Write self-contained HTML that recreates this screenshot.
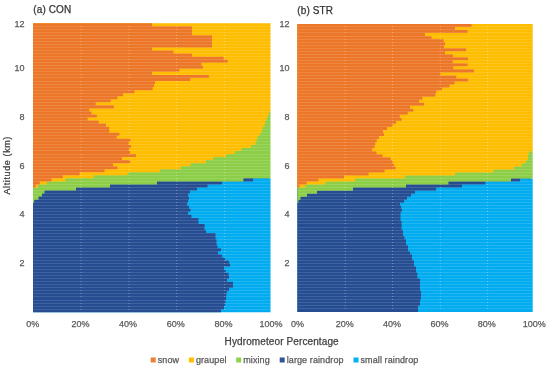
<!DOCTYPE html>
<html><head><meta charset="utf-8"><title>Hydrometeor Percentage</title>
<style>
html,body{margin:0;padding:0;background:#fff;}
body{width:550px;height:369px;overflow:hidden;}
svg{display:block;font-family:"Liberation Sans",Arial,sans-serif;}
</style></head><body>
<svg width="550" height="369" viewBox="0 0 550 369">
<rect width="550" height="369" fill="#fff"/>
<g>
<polygon points="33.0,24.30 267.5,24.30 267.5,111.42 268.5,111.42 268.5,178.35 270.5,178.35 270.5,312.20 33.0,312.20" fill="#00ACEF"/>
<polygon points="33.0,24.30 268.5,24.30 268.5,111.42 269.5,111.42 269.5,178.35 253.0,178.35 253.0,181.39 222.0,181.39 222.0,184.43 207.5,184.43 207.5,187.47 197.0,187.47 197.0,190.52 190.0,190.52 190.0,193.56 188.0,193.56 188.0,196.60 189.0,196.60 189.0,199.64 188.0,199.64 188.0,202.68 187.0,202.68 187.0,205.73 189.0,205.73 189.0,208.77 190.5,208.77 190.5,211.81 188.0,211.81 188.0,214.85 191.5,214.85 191.5,217.89 198.5,217.89 198.5,223.98 204.5,223.98 204.5,230.06 206.0,230.06 206.0,233.11 215.5,233.11 215.5,239.19 216.5,239.19 216.5,245.27 217.5,245.27 217.5,248.32 221.0,248.32 221.0,251.36 218.0,251.36 218.0,254.40 222.0,254.40 222.0,257.44 225.0,257.44 225.0,260.48 229.0,260.48 229.0,263.53 230.0,263.53 230.0,266.57 224.0,266.57 224.0,269.61 225.5,269.61 225.5,272.65 228.5,272.65 228.5,275.69 229.0,275.69 229.0,278.74 227.0,278.74 227.0,281.78 233.0,281.78 233.0,287.86 229.0,287.86 229.0,290.91 226.8,290.91 226.8,293.95 226.2,293.95 226.2,296.99 226.0,296.99 226.0,300.03 225.5,300.03 225.5,303.07 225.0,303.07 225.0,306.12 224.0,306.12 224.0,309.16 221.0,309.16 221.0,312.20 33.0,312.20" fill="#264D92"/>
<polygon points="33.0,24.30 269.5,24.30 269.5,111.42 270.5,111.42 270.5,178.35 243.4,178.35 243.4,181.39 157.0,181.39 157.0,184.43 110.0,184.43 110.0,187.47 76.0,187.47 76.0,190.52 44.5,190.52 44.5,193.56 42.0,193.56 42.0,196.60 38.5,196.60 38.5,199.64 34.2,199.64 34.2,202.68 33.0,202.68 33.0,311.10 33.0,311.10" fill="#8DCE48"/>
<polygon points="33.0,23.20 270.5,23.20 270.5,111.42 269.0,111.42 269.0,114.46 268.0,114.46 268.0,117.51 266.5,117.51 266.5,120.55 265.5,120.55 265.5,123.59 264.5,123.59 264.5,126.63 262.5,126.63 262.5,129.67 261.8,129.67 261.8,132.72 260.0,132.72 260.0,135.76 257.5,135.76 257.5,138.80 256.5,138.80 256.5,141.84 255.5,141.84 255.5,144.88 251.0,144.88 251.0,147.93 241.5,147.93 241.5,150.97 235.0,150.97 235.0,154.01 226.0,154.01 226.0,157.05 213.0,157.05 213.0,160.09 206.0,160.09 206.0,163.14 190.5,163.14 190.5,166.18 181.0,166.18 181.0,169.22 160.0,169.22 160.0,172.26 127.5,172.26 127.5,175.31 93.8,175.31 93.8,178.35 65.5,178.35 65.5,181.39 47.0,181.39 47.0,184.43 38.0,184.43 38.0,187.47 33.0,187.47 33.0,311.10 33.0,311.10" fill="#FFBD00"/>
<polygon points="33.0,23.20 152.0,23.20 152.0,26.24 192.0,26.24 192.0,35.37 212.0,35.37 212.0,47.54 152.0,47.54 152.0,50.58 173.5,50.58 173.5,53.62 192.0,53.62 192.0,56.66 223.6,56.66 223.6,59.71 227.7,59.71 227.7,62.75 201.3,62.75 201.3,65.79 203.0,65.79 203.0,68.83 179.4,68.83 179.4,71.87 152.0,71.87 152.0,74.92 208.8,74.92 208.8,77.96 190.3,77.96 190.3,81.00 155.0,81.00 155.0,84.04 154.0,84.04 154.0,87.08 152.6,87.08 152.6,90.13 134.5,90.13 134.5,93.17 123.0,93.17 123.0,96.21 117.5,96.21 117.5,99.25 110.7,99.25 110.7,102.29 95.7,102.29 95.7,105.34 113.8,105.34 113.8,108.38 89.3,108.38 89.3,111.42 91.5,111.42 91.5,114.46 96.8,114.46 96.8,117.51 87.6,117.51 87.6,120.55 98.6,120.55 98.6,123.59 106.0,123.59 106.0,126.63 109.2,126.63 109.2,132.72 119.4,132.72 119.4,135.76 116.6,135.76 116.6,138.80 130.3,138.80 130.3,141.84 128.7,141.84 128.7,144.88 131.0,144.88 131.0,147.93 129.0,147.93 129.0,150.97 130.0,150.97 130.0,154.01 136.0,154.01 136.0,157.05 122.0,157.05 122.0,160.09 130.0,160.09 130.0,163.14 113.0,163.14 113.0,166.18 117.5,166.18 117.5,169.22 104.5,169.22 104.5,172.26 79.6,172.26 79.6,175.31 62.8,175.31 62.8,178.35 51.5,178.35 51.5,181.39 39.8,181.39 39.8,184.43 35.6,184.43 35.6,187.47 33.0,187.47 33.0,311.10 33.0,311.10" fill="#EC7728"/>
<path d="M33.0 26.50H270.5M33.0 29.50H270.5M33.0 32.50H270.5M33.0 35.50H270.5M33.0 38.50H270.5M33.0 41.50H270.5M33.0 44.50H270.5M33.0 47.50H270.5M33.0 50.50H270.5M33.0 53.50H270.5M33.0 56.50H270.5M33.0 59.50H270.5M33.0 62.50H270.5M33.0 65.50H270.5M33.0 68.50H270.5M33.0 71.50H270.5M33.0 74.50H270.5M33.0 77.50H270.5M33.0 81.50H270.5M33.0 84.50H270.5M33.0 87.50H270.5M33.0 90.50H270.5M33.0 93.50H270.5M33.0 96.50H270.5M33.0 99.50H270.5M33.0 102.50H270.5M33.0 105.50H270.5M33.0 108.50H270.5M33.0 111.50H270.5M33.0 114.50H270.5M33.0 117.50H270.5M33.0 120.50H270.5M33.0 123.50H270.5M33.0 126.50H270.5M33.0 129.50H270.5M33.0 132.50H270.5M33.0 135.50H270.5M33.0 138.50H270.5M33.0 141.50H270.5M33.0 144.50H270.5M33.0 147.50H270.5M33.0 150.50H270.5M33.0 154.50H270.5M33.0 157.50H270.5M33.0 160.50H270.5M33.0 163.50H270.5M33.0 166.50H270.5M33.0 169.50H270.5M33.0 172.50H270.5M33.0 175.50H270.5M33.0 178.50H270.5M33.0 181.50H270.5M33.0 184.50H270.5M33.0 187.50H270.5M33.0 190.50H270.5M33.0 193.50H270.5M33.0 196.50H270.5M33.0 199.50H270.5M33.0 202.50H270.5M33.0 205.50H270.5M33.0 208.50H270.5M33.0 211.50H270.5M33.0 214.50H270.5M33.0 217.50H270.5M33.0 220.50H270.5M33.0 223.50H270.5M33.0 227.50H270.5M33.0 230.50H270.5M33.0 233.50H270.5M33.0 236.50H270.5M33.0 239.50H270.5M33.0 242.50H270.5M33.0 245.50H270.5M33.0 248.50H270.5M33.0 251.50H270.5M33.0 254.50H270.5M33.0 257.50H270.5M33.0 260.50H270.5M33.0 263.50H270.5M33.0 266.50H270.5M33.0 269.50H270.5M33.0 272.50H270.5M33.0 275.50H270.5M33.0 278.50H270.5M33.0 281.50H270.5M33.0 284.50H270.5M33.0 287.50H270.5M33.0 290.50H270.5M33.0 293.50H270.5M33.0 296.50H270.5M33.0 300.50H270.5M33.0 303.50H270.5M33.0 306.50H270.5M33.0 309.50H270.5" stroke="#fff" stroke-opacity="0.12" stroke-width="1.0" fill="none"/>
<path d="M81 26.00v1M81 29.00v1M81 32.00v1M81 35.00v1M81 38.00v1M81 41.00v1M81 44.00v1M81 47.00v1M81 50.00v1M81 53.00v1M81 56.00v1M81 59.00v1M81 62.00v1M81 65.00v1M81 68.00v1M81 71.00v1M81 74.00v1M81 77.00v1M81 81.00v1M81 84.00v1M81 87.00v1M81 90.00v1M81 93.00v1M81 96.00v1M81 99.00v1M81 102.00v1M81 105.00v1M81 108.00v1M81 111.00v1M81 114.00v1M81 117.00v1M81 120.00v1M81 123.00v1M81 126.00v1M81 129.00v1M81 132.00v1M81 135.00v1M81 138.00v1M81 141.00v1M81 144.00v1M81 147.00v1M81 150.00v1M81 154.00v1M81 157.00v1M81 160.00v1M81 163.00v1M81 166.00v1M81 169.00v1M81 172.00v1M81 175.00v1M81 178.00v1M81 181.00v1M81 184.00v1M81 187.00v1M81 190.00v1M81 193.00v1M81 196.00v1M81 199.00v1M81 202.00v1M81 205.00v1M81 208.00v1M81 211.00v1M81 214.00v1M81 217.00v1M81 220.00v1M81 223.00v1M81 227.00v1M81 230.00v1M81 233.00v1M81 236.00v1M81 239.00v1M81 242.00v1M81 245.00v1M81 248.00v1M81 251.00v1M81 254.00v1M81 257.00v1M81 260.00v1M81 263.00v1M81 266.00v1M81 269.00v1M81 272.00v1M81 275.00v1M81 278.00v1M81 281.00v1M81 284.00v1M81 287.00v1M81 290.00v1M81 293.00v1M81 296.00v1M81 300.00v1M81 303.00v1M81 306.00v1M81 309.00v1" stroke="#fff" stroke-opacity="0.32" stroke-width="1.0" fill="none"/>
<path d="M129 26.00v1M129 29.00v1M129 32.00v1M129 35.00v1M129 38.00v1M129 41.00v1M129 44.00v1M129 47.00v1M129 50.00v1M129 53.00v1M129 56.00v1M129 59.00v1M129 62.00v1M129 65.00v1M129 68.00v1M129 71.00v1M129 74.00v1M129 77.00v1M129 81.00v1M129 84.00v1M129 87.00v1M129 90.00v1M129 93.00v1M129 96.00v1M129 99.00v1M129 102.00v1M129 105.00v1M129 108.00v1M129 111.00v1M129 114.00v1M129 117.00v1M129 120.00v1M129 123.00v1M129 126.00v1M129 129.00v1M129 132.00v1M129 135.00v1M129 138.00v1M129 141.00v1M129 144.00v1M129 147.00v1M129 150.00v1M129 154.00v1M129 157.00v1M129 160.00v1M129 163.00v1M129 166.00v1M129 169.00v1M129 172.00v1M129 175.00v1M129 178.00v1M129 181.00v1M129 184.00v1M129 187.00v1M129 190.00v1M129 193.00v1M129 196.00v1M129 199.00v1M129 202.00v1M129 205.00v1M129 208.00v1M129 211.00v1M129 214.00v1M129 217.00v1M129 220.00v1M129 223.00v1M129 227.00v1M129 230.00v1M129 233.00v1M129 236.00v1M129 239.00v1M129 242.00v1M129 245.00v1M129 248.00v1M129 251.00v1M129 254.00v1M129 257.00v1M129 260.00v1M129 263.00v1M129 266.00v1M129 269.00v1M129 272.00v1M129 275.00v1M129 278.00v1M129 281.00v1M129 284.00v1M129 287.00v1M129 290.00v1M129 293.00v1M129 296.00v1M129 300.00v1M129 303.00v1M129 306.00v1M129 309.00v1" stroke="#fff" stroke-opacity="0.32" stroke-width="1.0" fill="none"/>
<path d="M176.7 26.00v1M176.7 29.00v1M176.7 32.00v1M176.7 35.00v1M176.7 38.00v1M176.7 41.00v1M176.7 44.00v1M176.7 47.00v1M176.7 50.00v1M176.7 53.00v1M176.7 56.00v1M176.7 59.00v1M176.7 62.00v1M176.7 65.00v1M176.7 68.00v1M176.7 71.00v1M176.7 74.00v1M176.7 77.00v1M176.7 81.00v1M176.7 84.00v1M176.7 87.00v1M176.7 90.00v1M176.7 93.00v1M176.7 96.00v1M176.7 99.00v1M176.7 102.00v1M176.7 105.00v1M176.7 108.00v1M176.7 111.00v1M176.7 114.00v1M176.7 117.00v1M176.7 120.00v1M176.7 123.00v1M176.7 126.00v1M176.7 129.00v1M176.7 132.00v1M176.7 135.00v1M176.7 138.00v1M176.7 141.00v1M176.7 144.00v1M176.7 147.00v1M176.7 150.00v1M176.7 154.00v1M176.7 157.00v1M176.7 160.00v1M176.7 163.00v1M176.7 166.00v1M176.7 169.00v1M176.7 172.00v1M176.7 175.00v1M176.7 178.00v1M176.7 181.00v1M176.7 184.00v1M176.7 187.00v1M176.7 190.00v1M176.7 193.00v1M176.7 196.00v1M176.7 199.00v1M176.7 202.00v1M176.7 205.00v1M176.7 208.00v1M176.7 211.00v1M176.7 214.00v1M176.7 217.00v1M176.7 220.00v1M176.7 223.00v1M176.7 227.00v1M176.7 230.00v1M176.7 233.00v1M176.7 236.00v1M176.7 239.00v1M176.7 242.00v1M176.7 245.00v1M176.7 248.00v1M176.7 251.00v1M176.7 254.00v1M176.7 257.00v1M176.7 260.00v1M176.7 263.00v1M176.7 266.00v1M176.7 269.00v1M176.7 272.00v1M176.7 275.00v1M176.7 278.00v1M176.7 281.00v1M176.7 284.00v1M176.7 287.00v1M176.7 290.00v1M176.7 293.00v1M176.7 296.00v1M176.7 300.00v1M176.7 303.00v1M176.7 306.00v1M176.7 309.00v1" stroke="#fff" stroke-opacity="0.32" stroke-width="1.0" fill="none"/>
<path d="M224.7 26.00v1M224.7 29.00v1M224.7 32.00v1M224.7 35.00v1M224.7 38.00v1M224.7 41.00v1M224.7 44.00v1M224.7 47.00v1M224.7 50.00v1M224.7 53.00v1M224.7 56.00v1M224.7 59.00v1M224.7 62.00v1M224.7 65.00v1M224.7 68.00v1M224.7 71.00v1M224.7 74.00v1M224.7 77.00v1M224.7 81.00v1M224.7 84.00v1M224.7 87.00v1M224.7 90.00v1M224.7 93.00v1M224.7 96.00v1M224.7 99.00v1M224.7 102.00v1M224.7 105.00v1M224.7 108.00v1M224.7 111.00v1M224.7 114.00v1M224.7 117.00v1M224.7 120.00v1M224.7 123.00v1M224.7 126.00v1M224.7 129.00v1M224.7 132.00v1M224.7 135.00v1M224.7 138.00v1M224.7 141.00v1M224.7 144.00v1M224.7 147.00v1M224.7 150.00v1M224.7 154.00v1M224.7 157.00v1M224.7 160.00v1M224.7 163.00v1M224.7 166.00v1M224.7 169.00v1M224.7 172.00v1M224.7 175.00v1M224.7 178.00v1M224.7 181.00v1M224.7 184.00v1M224.7 187.00v1M224.7 190.00v1M224.7 193.00v1M224.7 196.00v1M224.7 199.00v1M224.7 202.00v1M224.7 205.00v1M224.7 208.00v1M224.7 211.00v1M224.7 214.00v1M224.7 217.00v1M224.7 220.00v1M224.7 223.00v1M224.7 227.00v1M224.7 230.00v1M224.7 233.00v1M224.7 236.00v1M224.7 239.00v1M224.7 242.00v1M224.7 245.00v1M224.7 248.00v1M224.7 251.00v1M224.7 254.00v1M224.7 257.00v1M224.7 260.00v1M224.7 263.00v1M224.7 266.00v1M224.7 269.00v1M224.7 272.00v1M224.7 275.00v1M224.7 278.00v1M224.7 281.00v1M224.7 284.00v1M224.7 287.00v1M224.7 290.00v1M224.7 293.00v1M224.7 296.00v1M224.7 300.00v1M224.7 303.00v1M224.7 306.00v1M224.7 309.00v1" stroke="#fff" stroke-opacity="0.32" stroke-width="1.0" fill="none"/>
</g>
<g>
<polygon points="297.3,25.00 529.7,25.00 529.7,151.23 530.7,151.23 530.7,178.51 532.7,178.51 532.7,311.90 297.3,311.90" fill="#00ACEF"/>
<polygon points="297.3,25.00 530.7,25.00 530.7,151.23 531.7,151.23 531.7,178.51 520.0,178.51 520.0,181.54 485.3,181.54 485.3,184.57 462.0,184.57 462.0,187.61 436.0,187.61 436.0,190.64 415.0,190.64 415.0,193.67 411.0,193.67 411.0,196.70 407.0,196.70 407.0,199.73 404.0,199.73 404.0,202.76 400.0,202.76 400.0,205.79 401.0,205.79 401.0,208.83 402.0,208.83 402.0,211.86 400.5,211.86 400.5,220.95 401.6,220.95 401.6,230.05 403.0,230.05 403.0,236.11 404.4,236.11 404.4,239.14 406.0,239.14 406.0,245.21 408.0,245.21 408.0,251.27 410.0,251.27 410.0,254.30 412.0,254.30 412.0,260.36 414.0,260.36 414.0,266.43 416.0,266.43 416.0,272.49 417.3,272.49 417.3,278.55 420.0,278.55 420.0,290.68 421.0,290.68 421.0,299.77 420.0,299.77 420.0,305.84 418.0,305.84 418.0,311.90 297.3,311.90" fill="#264D92"/>
<polygon points="297.3,25.00 531.7,25.00 531.7,151.23 532.7,151.23 532.7,178.51 511.0,178.51 511.0,181.54 448.5,181.54 448.5,184.57 406.0,184.57 406.0,187.61 353.0,187.61 353.0,190.64 317.0,190.64 317.0,193.67 307.0,193.67 307.0,196.70 300.5,196.70 300.5,199.73 298.5,199.73 298.5,202.76 297.3,202.76 297.3,310.80 297.3,310.80" fill="#8DCE48"/>
<polygon points="297.3,23.90 532.7,23.90 532.7,151.23 529.0,151.23 529.0,154.26 528.0,154.26 528.0,160.32 526.0,160.32 526.0,163.35 522.0,163.35 522.0,166.38 514.0,166.38 514.0,169.42 493.5,169.42 493.5,172.45 455.0,172.45 455.0,175.48 405.0,175.48 405.0,178.51 355.0,178.51 355.0,181.54 325.5,181.54 325.5,184.57 305.5,184.57 305.5,187.61 297.3,187.61 297.3,310.80 297.3,310.80" fill="#FFBD00"/>
<polygon points="297.3,23.90 471.5,23.90 471.5,26.93 455.0,26.93 455.0,29.96 467.5,29.96 467.5,32.99 425.0,32.99 425.0,36.03 431.5,36.03 431.5,39.06 443.5,39.06 443.5,42.09 445.0,42.09 445.0,45.12 444.0,45.12 444.0,48.15 466.0,48.15 466.0,51.18 445.0,51.18 445.0,54.22 453.0,54.22 453.0,57.25 468.0,57.25 468.0,60.28 452.7,60.28 452.7,63.31 467.6,63.31 467.6,66.34 453.3,66.34 453.3,69.37 474.0,69.37 474.0,72.41 440.5,72.41 440.5,75.44 456.3,75.44 456.3,78.47 468.2,78.47 468.2,81.50 454.5,81.50 454.5,84.53 449.5,84.53 449.5,87.56 442.0,87.56 442.0,90.59 436.2,90.59 436.2,93.63 435.3,93.63 435.3,96.66 422.3,96.66 422.3,99.69 419.0,99.69 419.0,102.72 424.0,102.72 424.0,105.75 410.0,105.75 410.0,108.78 413.3,108.78 413.3,111.82 407.7,111.82 407.7,114.85 399.8,114.85 399.8,117.88 401.6,117.88 401.6,120.91 396.0,120.91 396.0,123.94 392.5,123.94 392.5,126.97 387.0,126.97 387.0,130.01 383.0,130.01 383.0,133.04 384.0,133.04 384.0,136.07 379.0,136.07 379.0,139.10 376.7,139.10 376.7,142.13 375.2,142.13 375.2,145.16 374.5,145.16 374.5,148.19 372.0,148.19 372.0,151.23 376.5,151.23 376.5,154.26 382.5,154.26 382.5,157.29 390.5,157.29 390.5,160.32 392.5,160.32 392.5,163.35 394.0,163.35 394.0,166.38 395.5,166.38 395.5,169.42 384.5,169.42 384.5,172.45 368.5,172.45 368.5,175.48 344.0,175.48 344.0,178.51 318.5,178.51 318.5,181.54 306.5,181.54 306.5,184.57 299.5,184.57 299.5,187.61 297.3,187.61 297.3,310.80 297.3,310.80" fill="#EC7728"/>
<path d="M297.3 26.50H532.7M297.3 29.50H532.7M297.3 32.50H532.7M297.3 36.50H532.7M297.3 39.50H532.7M297.3 42.50H532.7M297.3 45.50H532.7M297.3 48.50H532.7M297.3 51.50H532.7M297.3 54.50H532.7M297.3 57.50H532.7M297.3 60.50H532.7M297.3 63.50H532.7M297.3 66.50H532.7M297.3 69.50H532.7M297.3 72.50H532.7M297.3 75.50H532.7M297.3 78.50H532.7M297.3 81.50H532.7M297.3 84.50H532.7M297.3 87.50H532.7M297.3 90.50H532.7M297.3 93.50H532.7M297.3 96.50H532.7M297.3 99.50H532.7M297.3 102.50H532.7M297.3 105.50H532.7M297.3 108.50H532.7M297.3 111.50H532.7M297.3 114.50H532.7M297.3 117.50H532.7M297.3 120.50H532.7M297.3 123.50H532.7M297.3 126.50H532.7M297.3 130.50H532.7M297.3 133.50H532.7M297.3 136.50H532.7M297.3 139.50H532.7M297.3 142.50H532.7M297.3 145.50H532.7M297.3 148.50H532.7M297.3 151.50H532.7M297.3 154.50H532.7M297.3 157.50H532.7M297.3 160.50H532.7M297.3 163.50H532.7M297.3 166.50H532.7M297.3 169.50H532.7M297.3 172.50H532.7M297.3 175.50H532.7M297.3 178.50H532.7M297.3 181.50H532.7M297.3 184.50H532.7M297.3 187.50H532.7M297.3 190.50H532.7M297.3 193.50H532.7M297.3 196.50H532.7M297.3 199.50H532.7M297.3 202.50H532.7M297.3 205.50H532.7M297.3 208.50H532.7M297.3 211.50H532.7M297.3 214.50H532.7M297.3 217.50H532.7M297.3 220.50H532.7M297.3 223.50H532.7M297.3 227.50H532.7M297.3 230.50H532.7M297.3 233.50H532.7M297.3 236.50H532.7M297.3 239.50H532.7M297.3 242.50H532.7M297.3 245.50H532.7M297.3 248.50H532.7M297.3 251.50H532.7M297.3 254.50H532.7M297.3 257.50H532.7M297.3 260.50H532.7M297.3 263.50H532.7M297.3 266.50H532.7M297.3 269.50H532.7M297.3 272.50H532.7M297.3 275.50H532.7M297.3 278.50H532.7M297.3 281.50H532.7M297.3 284.50H532.7M297.3 287.50H532.7M297.3 290.50H532.7M297.3 293.50H532.7M297.3 296.50H532.7M297.3 299.50H532.7M297.3 302.50H532.7M297.3 305.50H532.7M297.3 308.50H532.7" stroke="#fff" stroke-opacity="0.12" stroke-width="1.0" fill="none"/>
<path d="M345.2 26.00v1M345.2 29.00v1M345.2 32.00v1M345.2 36.00v1M345.2 39.00v1M345.2 42.00v1M345.2 45.00v1M345.2 48.00v1M345.2 51.00v1M345.2 54.00v1M345.2 57.00v1M345.2 60.00v1M345.2 63.00v1M345.2 66.00v1M345.2 69.00v1M345.2 72.00v1M345.2 75.00v1M345.2 78.00v1M345.2 81.00v1M345.2 84.00v1M345.2 87.00v1M345.2 90.00v1M345.2 93.00v1M345.2 96.00v1M345.2 99.00v1M345.2 102.00v1M345.2 105.00v1M345.2 108.00v1M345.2 111.00v1M345.2 114.00v1M345.2 117.00v1M345.2 120.00v1M345.2 123.00v1M345.2 126.00v1M345.2 130.00v1M345.2 133.00v1M345.2 136.00v1M345.2 139.00v1M345.2 142.00v1M345.2 145.00v1M345.2 148.00v1M345.2 151.00v1M345.2 154.00v1M345.2 157.00v1M345.2 160.00v1M345.2 163.00v1M345.2 166.00v1M345.2 169.00v1M345.2 172.00v1M345.2 175.00v1M345.2 178.00v1M345.2 181.00v1M345.2 184.00v1M345.2 187.00v1M345.2 190.00v1M345.2 193.00v1M345.2 196.00v1M345.2 199.00v1M345.2 202.00v1M345.2 205.00v1M345.2 208.00v1M345.2 211.00v1M345.2 214.00v1M345.2 217.00v1M345.2 220.00v1M345.2 223.00v1M345.2 227.00v1M345.2 230.00v1M345.2 233.00v1M345.2 236.00v1M345.2 239.00v1M345.2 242.00v1M345.2 245.00v1M345.2 248.00v1M345.2 251.00v1M345.2 254.00v1M345.2 257.00v1M345.2 260.00v1M345.2 263.00v1M345.2 266.00v1M345.2 269.00v1M345.2 272.00v1M345.2 275.00v1M345.2 278.00v1M345.2 281.00v1M345.2 284.00v1M345.2 287.00v1M345.2 290.00v1M345.2 293.00v1M345.2 296.00v1M345.2 299.00v1M345.2 302.00v1M345.2 305.00v1M345.2 308.00v1" stroke="#fff" stroke-opacity="0.32" stroke-width="1.0" fill="none"/>
<path d="M392.6 26.00v1M392.6 29.00v1M392.6 32.00v1M392.6 36.00v1M392.6 39.00v1M392.6 42.00v1M392.6 45.00v1M392.6 48.00v1M392.6 51.00v1M392.6 54.00v1M392.6 57.00v1M392.6 60.00v1M392.6 63.00v1M392.6 66.00v1M392.6 69.00v1M392.6 72.00v1M392.6 75.00v1M392.6 78.00v1M392.6 81.00v1M392.6 84.00v1M392.6 87.00v1M392.6 90.00v1M392.6 93.00v1M392.6 96.00v1M392.6 99.00v1M392.6 102.00v1M392.6 105.00v1M392.6 108.00v1M392.6 111.00v1M392.6 114.00v1M392.6 117.00v1M392.6 120.00v1M392.6 123.00v1M392.6 126.00v1M392.6 130.00v1M392.6 133.00v1M392.6 136.00v1M392.6 139.00v1M392.6 142.00v1M392.6 145.00v1M392.6 148.00v1M392.6 151.00v1M392.6 154.00v1M392.6 157.00v1M392.6 160.00v1M392.6 163.00v1M392.6 166.00v1M392.6 169.00v1M392.6 172.00v1M392.6 175.00v1M392.6 178.00v1M392.6 181.00v1M392.6 184.00v1M392.6 187.00v1M392.6 190.00v1M392.6 193.00v1M392.6 196.00v1M392.6 199.00v1M392.6 202.00v1M392.6 205.00v1M392.6 208.00v1M392.6 211.00v1M392.6 214.00v1M392.6 217.00v1M392.6 220.00v1M392.6 223.00v1M392.6 227.00v1M392.6 230.00v1M392.6 233.00v1M392.6 236.00v1M392.6 239.00v1M392.6 242.00v1M392.6 245.00v1M392.6 248.00v1M392.6 251.00v1M392.6 254.00v1M392.6 257.00v1M392.6 260.00v1M392.6 263.00v1M392.6 266.00v1M392.6 269.00v1M392.6 272.00v1M392.6 275.00v1M392.6 278.00v1M392.6 281.00v1M392.6 284.00v1M392.6 287.00v1M392.6 290.00v1M392.6 293.00v1M392.6 296.00v1M392.6 299.00v1M392.6 302.00v1M392.6 305.00v1M392.6 308.00v1" stroke="#fff" stroke-opacity="0.32" stroke-width="1.0" fill="none"/>
<path d="M440.3 26.00v1M440.3 29.00v1M440.3 32.00v1M440.3 36.00v1M440.3 39.00v1M440.3 42.00v1M440.3 45.00v1M440.3 48.00v1M440.3 51.00v1M440.3 54.00v1M440.3 57.00v1M440.3 60.00v1M440.3 63.00v1M440.3 66.00v1M440.3 69.00v1M440.3 72.00v1M440.3 75.00v1M440.3 78.00v1M440.3 81.00v1M440.3 84.00v1M440.3 87.00v1M440.3 90.00v1M440.3 93.00v1M440.3 96.00v1M440.3 99.00v1M440.3 102.00v1M440.3 105.00v1M440.3 108.00v1M440.3 111.00v1M440.3 114.00v1M440.3 117.00v1M440.3 120.00v1M440.3 123.00v1M440.3 126.00v1M440.3 130.00v1M440.3 133.00v1M440.3 136.00v1M440.3 139.00v1M440.3 142.00v1M440.3 145.00v1M440.3 148.00v1M440.3 151.00v1M440.3 154.00v1M440.3 157.00v1M440.3 160.00v1M440.3 163.00v1M440.3 166.00v1M440.3 169.00v1M440.3 172.00v1M440.3 175.00v1M440.3 178.00v1M440.3 181.00v1M440.3 184.00v1M440.3 187.00v1M440.3 190.00v1M440.3 193.00v1M440.3 196.00v1M440.3 199.00v1M440.3 202.00v1M440.3 205.00v1M440.3 208.00v1M440.3 211.00v1M440.3 214.00v1M440.3 217.00v1M440.3 220.00v1M440.3 223.00v1M440.3 227.00v1M440.3 230.00v1M440.3 233.00v1M440.3 236.00v1M440.3 239.00v1M440.3 242.00v1M440.3 245.00v1M440.3 248.00v1M440.3 251.00v1M440.3 254.00v1M440.3 257.00v1M440.3 260.00v1M440.3 263.00v1M440.3 266.00v1M440.3 269.00v1M440.3 272.00v1M440.3 275.00v1M440.3 278.00v1M440.3 281.00v1M440.3 284.00v1M440.3 287.00v1M440.3 290.00v1M440.3 293.00v1M440.3 296.00v1M440.3 299.00v1M440.3 302.00v1M440.3 305.00v1M440.3 308.00v1" stroke="#fff" stroke-opacity="0.32" stroke-width="1.0" fill="none"/>
<path d="M487.5 26.00v1M487.5 29.00v1M487.5 32.00v1M487.5 36.00v1M487.5 39.00v1M487.5 42.00v1M487.5 45.00v1M487.5 48.00v1M487.5 51.00v1M487.5 54.00v1M487.5 57.00v1M487.5 60.00v1M487.5 63.00v1M487.5 66.00v1M487.5 69.00v1M487.5 72.00v1M487.5 75.00v1M487.5 78.00v1M487.5 81.00v1M487.5 84.00v1M487.5 87.00v1M487.5 90.00v1M487.5 93.00v1M487.5 96.00v1M487.5 99.00v1M487.5 102.00v1M487.5 105.00v1M487.5 108.00v1M487.5 111.00v1M487.5 114.00v1M487.5 117.00v1M487.5 120.00v1M487.5 123.00v1M487.5 126.00v1M487.5 130.00v1M487.5 133.00v1M487.5 136.00v1M487.5 139.00v1M487.5 142.00v1M487.5 145.00v1M487.5 148.00v1M487.5 151.00v1M487.5 154.00v1M487.5 157.00v1M487.5 160.00v1M487.5 163.00v1M487.5 166.00v1M487.5 169.00v1M487.5 172.00v1M487.5 175.00v1M487.5 178.00v1M487.5 181.00v1M487.5 184.00v1M487.5 187.00v1M487.5 190.00v1M487.5 193.00v1M487.5 196.00v1M487.5 199.00v1M487.5 202.00v1M487.5 205.00v1M487.5 208.00v1M487.5 211.00v1M487.5 214.00v1M487.5 217.00v1M487.5 220.00v1M487.5 223.00v1M487.5 227.00v1M487.5 230.00v1M487.5 233.00v1M487.5 236.00v1M487.5 239.00v1M487.5 242.00v1M487.5 245.00v1M487.5 248.00v1M487.5 251.00v1M487.5 254.00v1M487.5 257.00v1M487.5 260.00v1M487.5 263.00v1M487.5 266.00v1M487.5 269.00v1M487.5 272.00v1M487.5 275.00v1M487.5 278.00v1M487.5 281.00v1M487.5 284.00v1M487.5 287.00v1M487.5 290.00v1M487.5 293.00v1M487.5 296.00v1M487.5 299.00v1M487.5 302.00v1M487.5 305.00v1M487.5 308.00v1" stroke="#fff" stroke-opacity="0.32" stroke-width="1.0" fill="none"/>
</g>
<g>
<text x="33.3" y="12.8" font-size="10" text-anchor="start" fill="#333" stroke="#333" stroke-width="0.25" letter-spacing="0.12">(a) CON</text>
<text x="297.3" y="13.8" font-size="10" text-anchor="start" fill="#333" stroke="#333" stroke-width="0.25" letter-spacing="0.12">(b) STR</text>
<text x="24.6" y="27.05" font-size="9" text-anchor="end" fill="#595959" stroke="#595959" stroke-width="0.25" >12</text>
<text x="289.6" y="27.150000000000002" font-size="9" text-anchor="end" fill="#595959" stroke="#595959" stroke-width="0.25" >12</text>
<text x="24.6" y="70.95" font-size="9" text-anchor="end" fill="#595959" stroke="#595959" stroke-width="0.25" >10</text>
<text x="289.6" y="71.05" font-size="9" text-anchor="end" fill="#595959" stroke="#595959" stroke-width="0.25" >10</text>
<text x="24.6" y="119.55" font-size="9" text-anchor="end" fill="#595959" stroke="#595959" stroke-width="0.25" >8</text>
<text x="289.6" y="119.64999999999999" font-size="9" text-anchor="end" fill="#595959" stroke="#595959" stroke-width="0.25" >8</text>
<text x="24.6" y="168.55" font-size="9" text-anchor="end" fill="#595959" stroke="#595959" stroke-width="0.25" >6</text>
<text x="289.6" y="168.65" font-size="9" text-anchor="end" fill="#595959" stroke="#595959" stroke-width="0.25" >6</text>
<text x="24.6" y="217.25" font-size="9" text-anchor="end" fill="#595959" stroke="#595959" stroke-width="0.25" >4</text>
<text x="289.6" y="217.35" font-size="9" text-anchor="end" fill="#595959" stroke="#595959" stroke-width="0.25" >4</text>
<text x="24.6" y="265.95" font-size="9" text-anchor="end" fill="#595959" stroke="#595959" stroke-width="0.25" >2</text>
<text x="289.6" y="266.05" font-size="9" text-anchor="end" fill="#595959" stroke="#595959" stroke-width="0.25" >2</text>
<text x="32.8" y="326.6" font-size="9" text-anchor="middle" fill="#595959" stroke="#595959" stroke-width="0.25" >0%</text>
<text x="297.4" y="326.6" font-size="9" text-anchor="middle" fill="#595959" stroke="#595959" stroke-width="0.25" >0%</text>
<text x="80.44999999999999" y="326.6" font-size="9" text-anchor="middle" fill="#595959" stroke="#595959" stroke-width="0.25" >20%</text>
<text x="344.75" y="326.6" font-size="9" text-anchor="middle" fill="#595959" stroke="#595959" stroke-width="0.25" >20%</text>
<text x="128.1" y="326.6" font-size="9" text-anchor="middle" fill="#595959" stroke="#595959" stroke-width="0.25" >40%</text>
<text x="392.09999999999997" y="326.6" font-size="9" text-anchor="middle" fill="#595959" stroke="#595959" stroke-width="0.25" >40%</text>
<text x="175.75" y="326.6" font-size="9" text-anchor="middle" fill="#595959" stroke="#595959" stroke-width="0.25" >60%</text>
<text x="439.45" y="326.6" font-size="9" text-anchor="middle" fill="#595959" stroke="#595959" stroke-width="0.25" >60%</text>
<text x="223.39999999999998" y="326.6" font-size="9" text-anchor="middle" fill="#595959" stroke="#595959" stroke-width="0.25" >80%</text>
<text x="486.79999999999995" y="326.6" font-size="9" text-anchor="middle" fill="#595959" stroke="#595959" stroke-width="0.25" >80%</text>
<text x="271.05" y="326.6" font-size="9" text-anchor="middle" fill="#595959" stroke="#595959" stroke-width="0.25" >100%</text>
<text x="534.15" y="326.6" font-size="9" text-anchor="middle" fill="#595959" stroke="#595959" stroke-width="0.25" >100%</text>
<text x="281.7" y="344.8" font-size="10" text-anchor="middle" fill="#404040" stroke="#404040" stroke-width="0.25" letter-spacing="0.11">Hydrometeor Percentage</text>
<text transform="translate(10.2,165.3) rotate(-90)" font-size="9" letter-spacing="0.62" text-anchor="middle" fill="#404040" stroke="#404040" stroke-width="0.25">Altitude (km)</text>
<rect x="150.7" y="357.5" width="5" height="5" fill="#ED7D31"/>
<text x="157.7" y="362.8" font-size="9" text-anchor="start" fill="#595959" stroke="#595959" stroke-width="0.25" letter-spacing="0.1">snow</text>
<rect x="188.9" y="357.5" width="5" height="5" fill="#FFC000"/>
<text x="195.9" y="362.8" font-size="9" text-anchor="start" fill="#595959" stroke="#595959" stroke-width="0.25" letter-spacing="0.1">graupel</text>
<rect x="236.2" y="357.5" width="5" height="5" fill="#92D050"/>
<text x="243.2" y="362.8" font-size="9" text-anchor="start" fill="#595959" stroke="#595959" stroke-width="0.25" letter-spacing="0.1">mixing</text>
<rect x="279.7" y="357.5" width="5" height="5" fill="#2F5597"/>
<text x="286.7" y="362.8" font-size="9" text-anchor="start" fill="#595959" stroke="#595959" stroke-width="0.25" letter-spacing="0.1">large raindrop</text>
<rect x="353.5" y="357.5" width="5" height="5" fill="#00B0F0"/>
<text x="360.5" y="362.8" font-size="9" text-anchor="start" fill="#595959" stroke="#595959" stroke-width="0.25" letter-spacing="0.1">small raindrop</text>
</g>
</svg>
</body></html>
